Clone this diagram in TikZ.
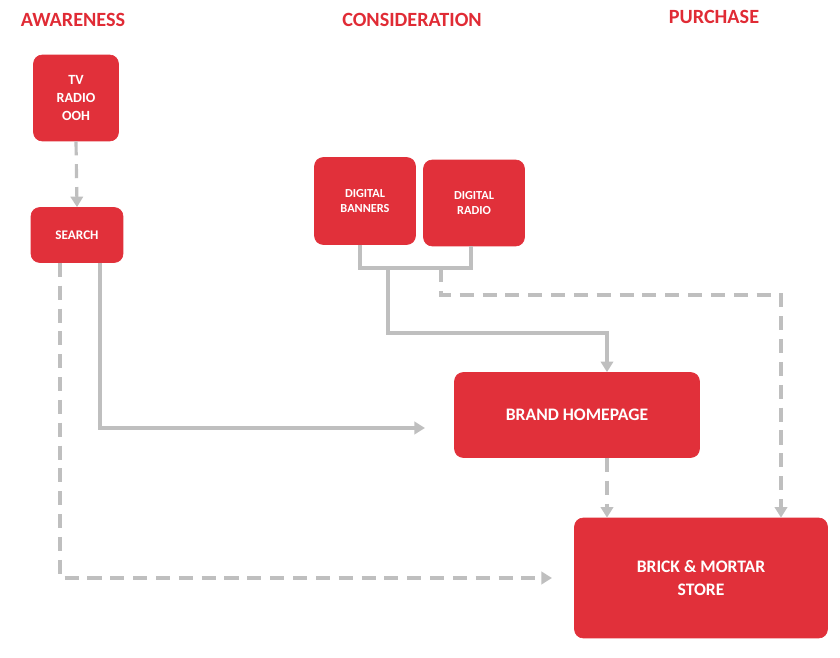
\documentclass[tikz,border=0pt]{standalone}
\usepackage{fontspec}
\setmainfont{Carlito}
\usetikzlibrary{arrows.meta}
\definecolor{boxred}{HTML}{E1303A}
\definecolor{hdr}{HTML}{E02B35}
\definecolor{ln}{HTML}{BFBFBF}
\begin{document}
\begin{tikzpicture}[x=0.02cm,y=-0.02cm,
 box/.style={fill=boxred,draw=boxred,rounded corners=5pt,text=white,font=\bfseries,align=center,inner sep=0pt},
 hd/.style={text=hdr,font=\fontsize{11.5}{13}\selectfont\bfseries},
 con/.style={draw=ln,line width=1.8pt},
 dsh/.style={con,dash pattern=on 8pt off 5pt},
 arr/.style={-{Triangle[length=6pt,width=7pt]}}]
\useasboundingbox (0,0) rectangle (840,658);
\node[hd] (h1) at (73,20) {AWARENESS};
\node[hd] (h2) at (412,20) {CONSIDERATION};
\node[hd] (h3) at (714,17) {PURCHASE};
\node[box,minimum width=103\pgflinewidth,text width=1.7cm,minimum height=1.72cm,font=\fontsize{8}{10}\selectfont\bfseries] (tv) at (76,98) {TV\\RADIO\\OOH};
\node[box,minimum width=1.84cm,minimum height=1.1cm,font=\fontsize{7.5}{9}\selectfont\bfseries] (search) at (77,235) {SEARCH};
\node[box,minimum width=2.02cm,minimum height=1.74cm,font=\fontsize{7}{9}\selectfont\bfseries] (db) at (365,201) {DIGITAL\\BANNERS};
\node[box,minimum width=2.02cm,minimum height=1.72cm,font=\fontsize{7}{9}\selectfont\bfseries] (dr) at (474,203) {DIGITAL\\RADIO};
\node[box,minimum width=4.9cm,minimum height=1.7cm,font=\fontsize{10}{12}\selectfont\bfseries] (bh) at (577,415) {BRAND HOMEPAGE};
\node[box,minimum width=5.06cm,minimum height=2.4cm,font=\fontsize{10}{13}\selectfont\bfseries] (bm) at (701,578) {BRICK \& MORTAR\\STORE};
\coordinate (e1) at (425,428);
\coordinate (e2) at (552,578);
\coordinate (j) at (388,268);
\coordinate (k) at (441,268);
\draw[dsh,arr] (tv.south) -- (search.north);
\draw[con,arr] (search.south -| 100,0) |- (e1);
\draw[dsh,arr] (search.south -| 60,0) |- (e2);
\draw[con] (db.south -| 360,0) |- (j) -- (k) -| (dr.south -| 471,0);
\draw[con,arr] (j) |- (607,333) -- (bh.north -| 607,0);
\draw[dsh,arr] (k) |- (781,295) -- (bm.north -| 781,0);
\draw[dsh,arr] (bh.south -| 607,0) -- (bm.north -| 607,0);
\end{tikzpicture}
\end{document}
